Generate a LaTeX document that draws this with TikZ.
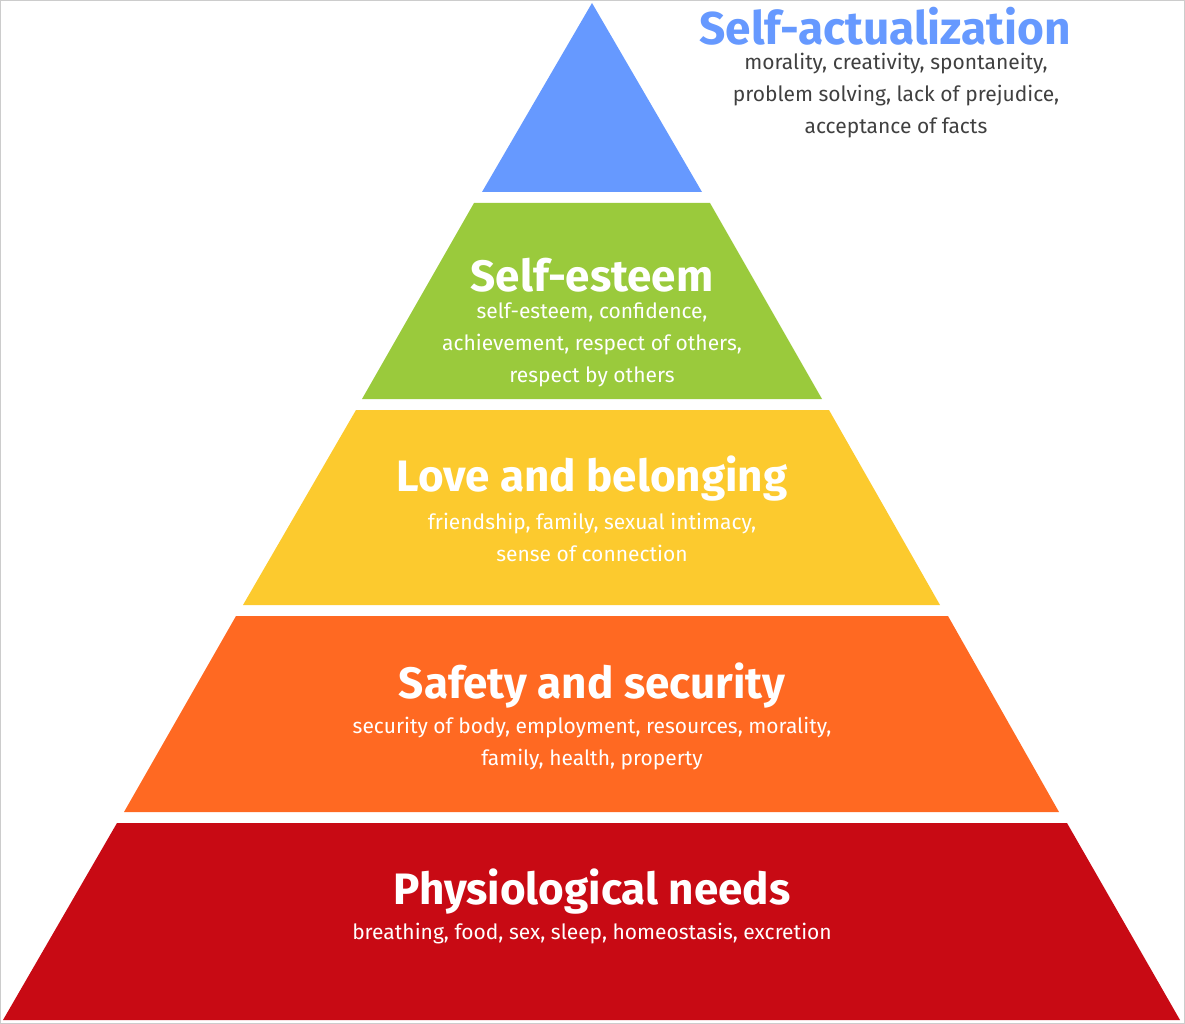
\documentclass[tikz,border=0pt]{standalone}
\usepackage{fontspec}
\setmainfont{Fira Sans}
\definecolor{cblue}{HTML}{6699FF}
\definecolor{cgreen}{HTML}{9ACA3C}
\definecolor{cyellow}{HTML}{FCCA2E}
\definecolor{corange}{HTML}{FF6922}
\definecolor{cred}{HTML}{C80A14}
\definecolor{ctext}{HTML}{404040}
\tikzset{
 ttl/.style={font=\fontsize{44}{48}\selectfont\bfseries, text=white, inner sep=0pt},
 sub/.style={font=\fontsize{21}{32}\selectfont, text=white, align=center, inner sep=0pt},
}
\begin{document}
\begin{tikzpicture}[x=1pt,y=-1pt]
\useasboundingbox (0,0) rectangle (1185,1024);
\draw[gray!40, line width=1pt] (0.5,0.5) rectangle (1184.5,1023.5);
\fill[cblue] (592,3) -- (702,192) -- (482,192) -- cycle;
\fill[cgreen] (474,203) -- (710,203) -- (822,399) -- (362,399) -- cycle;
\fill[cyellow] (356,410) -- (829,410) -- (940,605) -- (243,605) -- cycle;
\fill[corange] (236,616) -- (948,616) -- (1059,812) -- (124,812) -- cycle;
\fill[cred] (117,823) -- (1067,823) -- (1180,1020) -- (3,1020) -- cycle;
\node[ttl, text=cblue, font=\fontsize{46}{50}\selectfont\bfseries] (t1) at (885,26) {Self-actualization};
\node[sub, text=ctext] (s1) at (896,96) {morality, creativity, spontaneity,\\problem solving, lack of prejudice,\\acceptance of facts};
\node[ttl] (t2) at (592,275) {Self-esteem};
\node[sub] (s2) at (592,345) {self-esteem, confidence,\\achievement, respect of others,\\respect by others};
\node[ttl] (t3) at (592,479) {Love and belonging};
\node[sub] (s3) at (592,537) {friendship, family, sexual intimacy,\\sense of connection};
\node[ttl] (t4) at (592,686) {Safety and security};
\node[sub] (s4) at (592,744) {security of body, employment, resources, morality,\\family, health, property};
\node[ttl] (t5) at (592,892) {Physiological needs};
\node[sub] (s5) at (592,934) {breathing, food, sex, sleep, homeostasis, excretion};
\end{tikzpicture}
\end{document}
